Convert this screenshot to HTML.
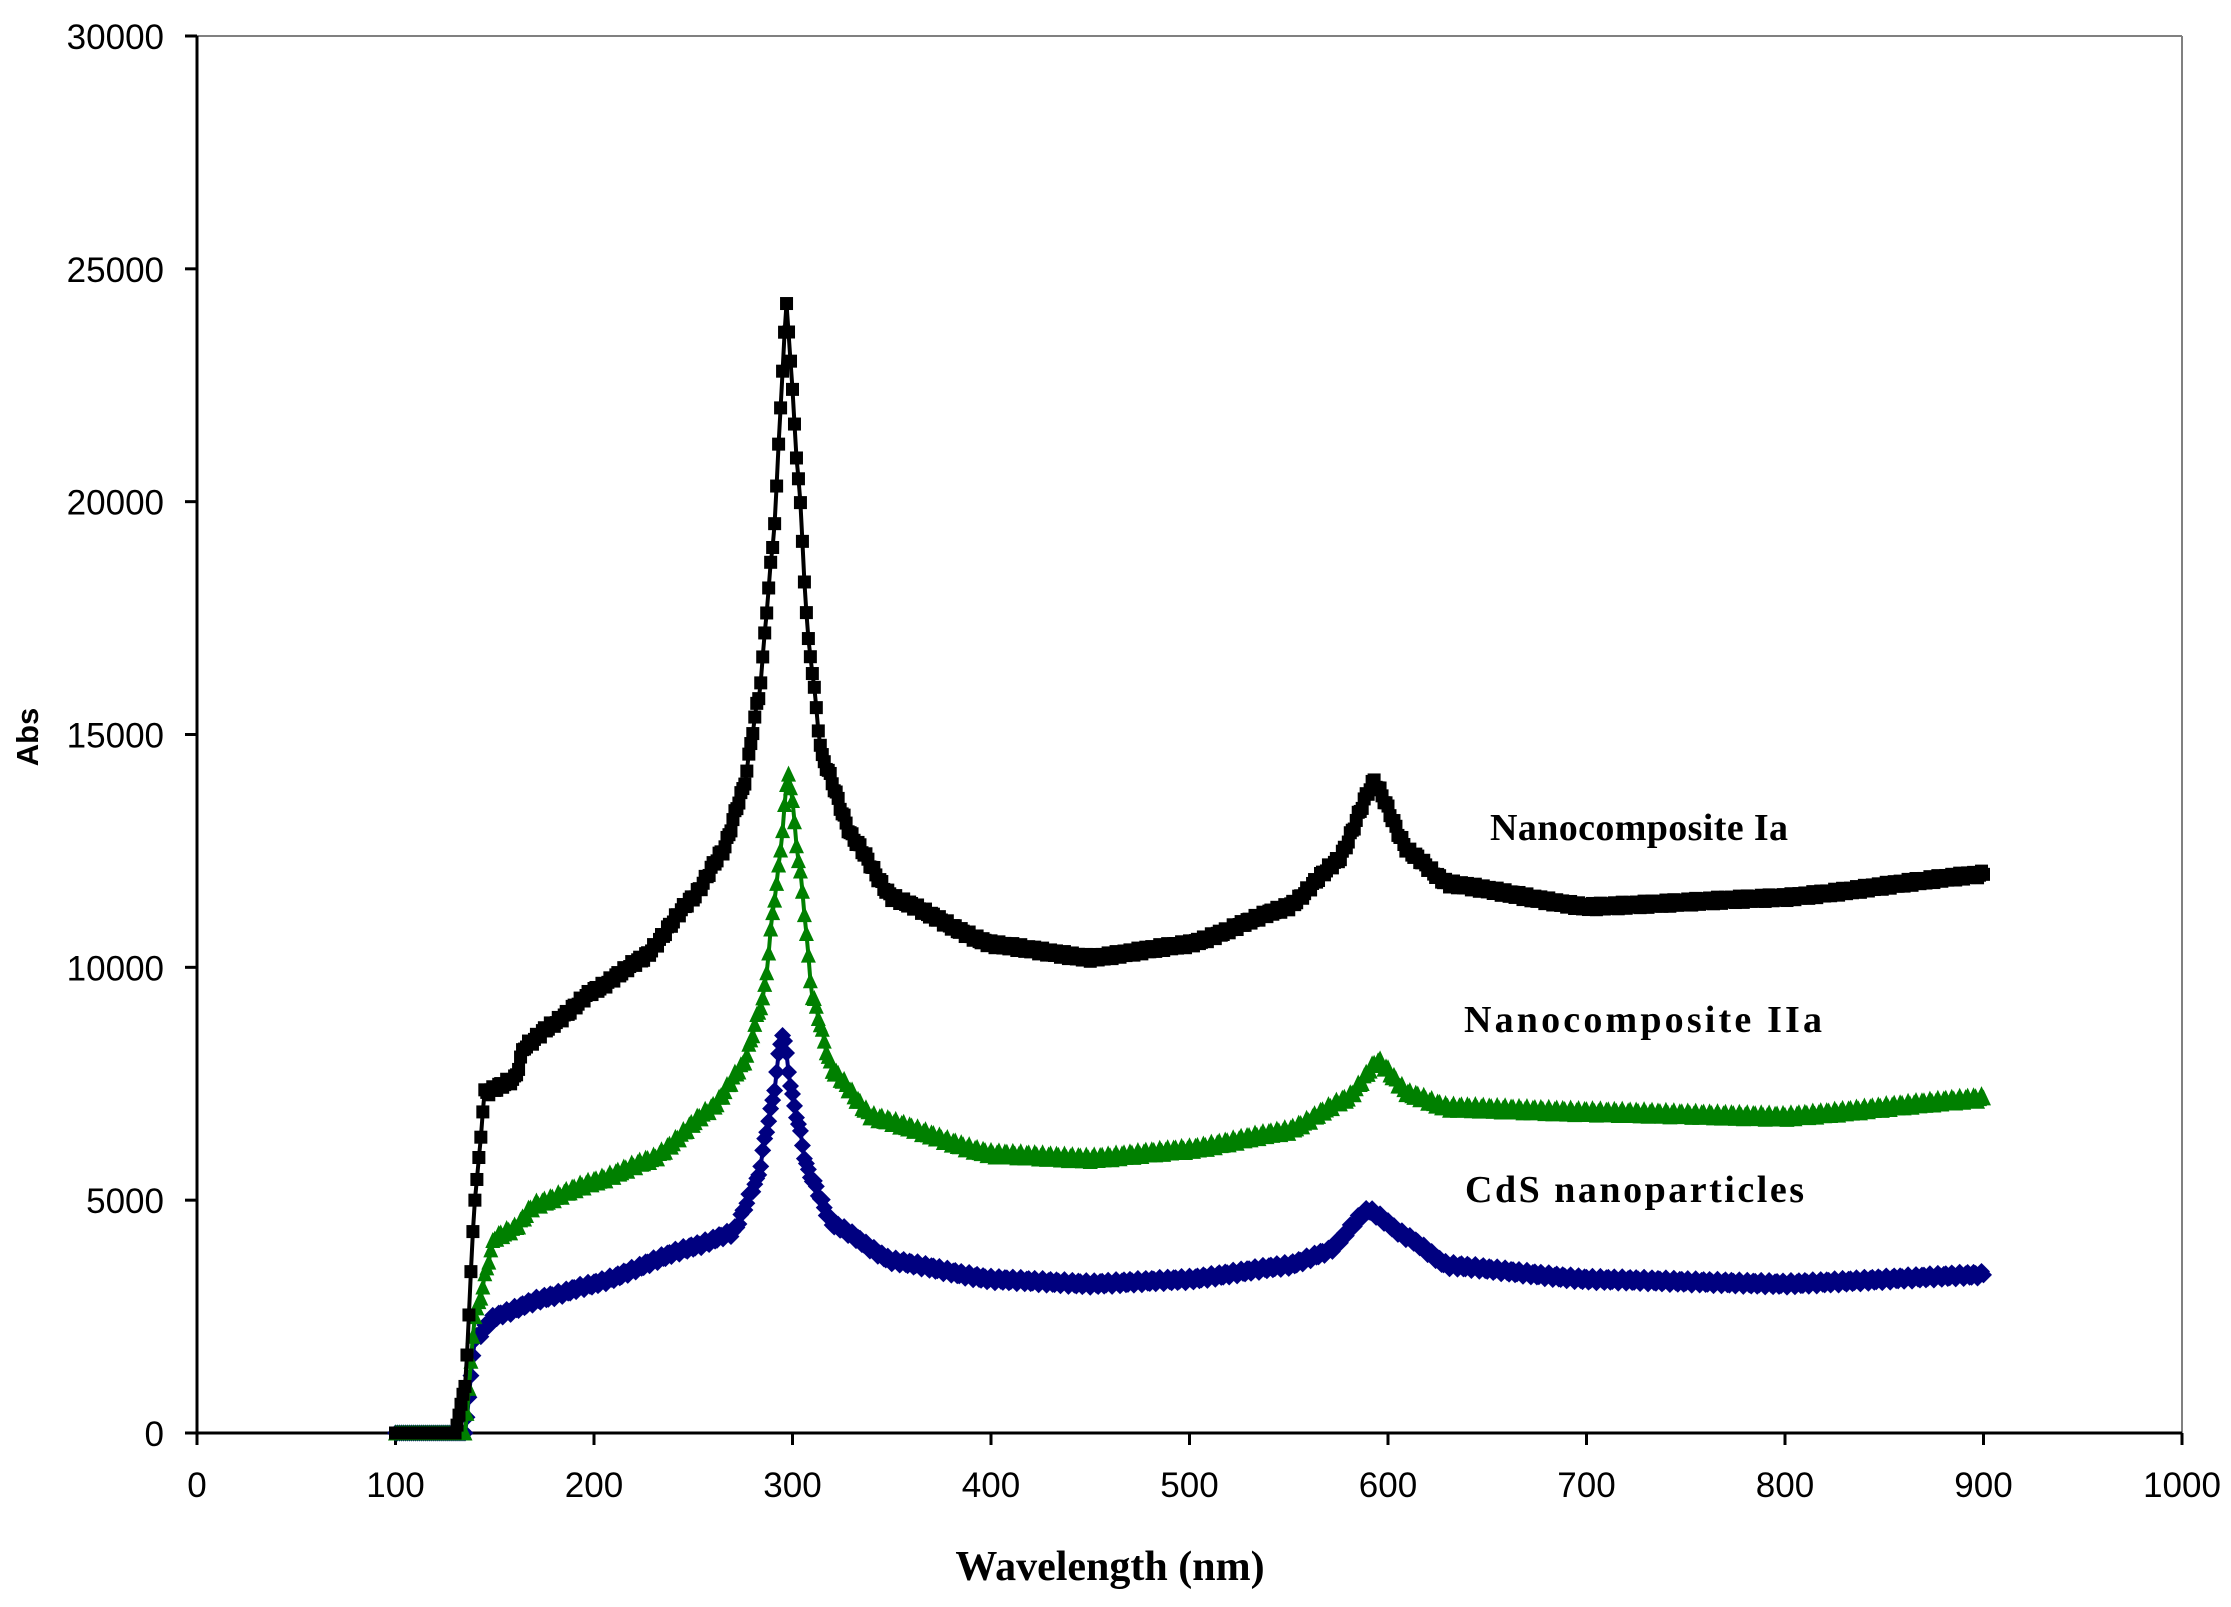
<!DOCTYPE html>
<html><head><meta charset="utf-8"><style>
html,body{margin:0;padding:0;background:#fff;}
svg{display:block;}
</style></head><body>
<svg id="s" width="2231" height="1607" xmlns="http://www.w3.org/2000/svg">
<rect x="0" y="0" width="2231" height="1607" fill="#fff"/>
<line x1="197" y1="36" x2="2182" y2="36" stroke="#808080" stroke-width="2"/>
<line x1="2182" y1="36" x2="2182" y2="1433" stroke="#808080" stroke-width="2"/>
<g id="axes" stroke="#000" stroke-width="3"></g>
<g id="lbl" font-family="Liberation Sans, sans-serif" font-size="35" fill="#000"></g>
<g id="data"></g>
<text x="1110" y="1580" text-anchor="middle" font-family="Liberation Serif, serif" font-weight="bold" font-size="42">Wavelength (nm)</text>
<text transform="translate(38,737) rotate(-90)" text-anchor="middle" font-family="Liberation Sans, sans-serif" font-weight="bold" font-size="31">Abs</text>
<g font-family="Liberation Serif, serif" font-weight="bold" font-size="38" fill="#000">
<text x="1490" y="840" textLength="298">Nanocomposite Ia</text>
<text x="1464" y="1032" textLength="358">Nanocomposite IIa</text>
<text x="1465" y="1202" textLength="339">CdS nanoparticles</text>
</g>
</svg>
<script>
var NS="http://www.w3.org/2000/svg";
function X(v){return 197+v*1.985;}
function Y(a){return 1433-a*1397/30000;}
function el(p,t,at,txt){var e=document.createElementNS(NS,t);for(var k in at)e.setAttribute(k,at[k]);if(txt!=null)e.textContent=txt;p.appendChild(e);return e;}
var ax=document.getElementById('axes'),lb=document.getElementById('lbl');
el(ax,'line',{x1:197,y1:36,x2:197,y2:1445});
el(ax,'line',{x1:185,y1:1433,x2:2182,y2:1433});
for(var i=0;i<=6;i++){var y=Y(i*5000);el(ax,'line',{x1:185,y1:y,x2:197,y2:y});el(lb,'text',{x:164,y:y+13,'text-anchor':'end'},String(i*5000));}
for(var i=0;i<=10;i++){var x=X(i*100);el(ax,'line',{x1:x,y1:1433,x2:x,y2:1445});el(lb,'text',{x:x,y:1497,'text-anchor':'middle'},String(i*100));}
var black=[[100,0],[130,0],[135,1000],[140,5000],[145,7300],[160,7600],[165,8300],[180,8800],[200,9500],[225,10200],[250,11500],[265,12500],[275,13800],[283,15800],[290,19000],[297,24200],[303,20500],[308,17000],[315,14500],[330,12800],[350,11500],[400,10500],[450,10200],[500,10500],[550,11300],[575,12300],[593,14000],[610,12500],[630,11800],[700,11300],[800,11500],[900,12000]];
var green=[[100,0],[135,0],[140,2500],[150,4200],[160,4400],[170,4900],[200,5400],[230,5900],[260,7000],[275,7900],[285,9300],[292,11800],[298,14200],[304,12000],[310,9400],[320,7800],[340,6800],[400,6000],[450,5900],[500,6100],[550,6500],[580,7200],[595,8000],[610,7300],[630,7000],[700,6900],[800,6800],[900,7200]];
var blue=[[100,0],[135,0],[140,2000],[150,2500],[175,2900],[200,3200],[250,4000],[270,4300],[282,5400],[289,6900],[295,8600],[301,7000],[308,5600],[320,4500],[350,3700],[400,3300],[450,3200],[500,3300],[550,3600],[570,3900],[590,4800],[610,4200],[630,3600],[700,3300],[800,3200],[900,3400]];
function interp(d,v){for(var i=1;i<d.length;i++){if(v<=d[i][0]){var a=d[i-1],b=d[i];var t=(v-a[0])/(b[0]-a[0]);var s=(1-Math.cos(Math.PI*t))/2;return a[1]+(b[1]-a[1])*(t*0.7+s*0.3);}}return d[d.length-1][1];}
var g=document.getElementById('data');
function draw(d,col,shape,sz){var pts=[];for(var v=100;v<=900;v+=1){var a=interp(d,v)+(v>140?(Math.sin(v*1.7)*70):0);pts.push([X(v),Y(a)]);}
el(g,'polyline',{points:pts.map(function(p){return p[0].toFixed(1)+','+p[1].toFixed(1);}).join(' '),fill:'none',stroke:col,'stroke-width':4});
var gg=el(g,'g',{fill:col});
pts.forEach(function(p){var x=p[0],y=p[1],h=sz/2;
if(shape=='sq')el(gg,'rect',{x:x-h,y:y-h,width:sz,height:sz});
else if(shape=='tri')el(gg,'polygon',{points:(x)+','+(y-h-1)+' '+(x-h)+','+(y+h)+' '+(x+h)+','+(y+h)});
else el(gg,'polygon',{points:x+','+(y-h-1)+' '+(x+h+1)+','+y+' '+x+','+(y+h+1)+' '+(x-h-1)+','+y});});}
draw(blue,'#000080','dia',15);
draw(green,'#008000','tri',15);
draw(black,'#000000','sq',13);
</script>
</body></html>
